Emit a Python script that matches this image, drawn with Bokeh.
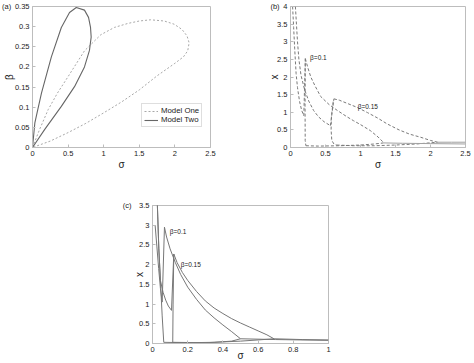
from bokeh.plotting import figure
from bokeh.layouts import column, row
from bokeh.models import Range1d, FixedTicker, Label
from bokeh.embed import file_html
from bokeh.resources import INLINE

FONT = "Liberation Sans"
AX = "#bdbdbd"
TXT = "#222222"

panel_tags = ["(a)", "(b)", "(c)"]

# ---------------- panel (a) data ----------------
a_xticks = [0, 0.5, 1, 1.5, 2, 2.5]
a_xlabels = ["0", "0.5", "1", "1.5", "2", "2.5"]
a_yticks = [0, 0.05, 0.1, 0.15, 0.2, 0.25, 0.3, 0.35]
a_ylabels = ["0", "0.05", "0.1", "0.15", "0.2", "0.25", "0.3", "0.35"]

model_one_sigma = [0, 0.1, 0.22, 0.35, 0.5, 0.73, 0.96, 1.15, 1.34, 1.5, 1.66, 1.85,
                   1.99, 2.1, 2.17, 2.2, 2.18, 2.12, 2.0, 1.75, 1.5, 1.25, 1.0, 0.75,
                   0.5, 0.25, 0]
model_one_beta = [0, 0.045, 0.094, 0.135, 0.176, 0.24, 0.28, 0.298, 0.308, 0.314, 0.317, 0.314,
                  0.306, 0.293, 0.277, 0.26, 0.24, 0.225, 0.209, 0.178, 0.143, 0.113, 0.086, 0.06,
                  0.037, 0.016, 0]
model_two_sigma = [0, 0.033, 0.074, 0.126, 0.265, 0.405, 0.52, 0.615, 0.73, 0.787, 0.815, 0.824,
                   0.8, 0.73, 0.59, 0.405, 0.172, 0]
model_two_beta = [0, 0.061, 0.094, 0.135, 0.225, 0.298, 0.335, 0.3475, 0.341, 0.323, 0.298, 0.274,
                  0.241, 0.2, 0.151, 0.102, 0.045, 0]

# ---------------- panel (b) data (Model One) ----------------
b_xticks = [0, 0.5, 1, 1.5, 2, 2.5]
b_xlabels = ["0", "0.5", "1", "1.5", "2", "2.5"]
b_yticks = [0, 0.5, 1, 1.5, 2, 2.5, 3, 3.5, 4]
b_ylabels = ["0", "0.5", "1", "1.5", "2", "2.5", "3", "3.5", "4"]

b1_upper_s = [0.03, 0.045, 0.06, 0.08, 0.1, 0.13, 0.16, 0.19]
b1_upper_x = [4.0, 3.4, 2.8, 2.1, 1.7, 1.3, 1.05, 0.9]
b1_rise_s = [0.19, 0.212]
b1_rise_x = [0.9, 2.52]
b1_decay_s = [0.212, 0.25, 0.29, 0.35, 0.43, 0.55, 0.67, 0.8, 0.9, 1.0, 1.14, 1.25, 1.33]
b1_decay_x = [2.52, 2.25, 2.0, 1.75, 1.45, 1.22, 1.05, 0.88, 0.76, 0.65, 0.48, 0.3, 0.14]
b1_drop_s = [0.212, 0.208, 0.21, 0.22]
b1_drop_x = [2.52, 1.2, 0.2, 0.05]
b1_lower_s = [0.22, 0.4, 0.7, 1.0, 1.2, 1.33]
b1_lower_x = [0.05, 0.04, 0.05, 0.07, 0.1, 0.13]
b1_tail_s = [1.33, 1.6, 2.0, 2.5]
b1_tail_x = [0.13, 0.12, 0.11, 0.1]

b2_upper_s = [0.07, 0.085, 0.1, 0.12, 0.15, 0.2, 0.26, 0.33, 0.4, 0.48, 0.57]
b2_upper_x = [4.0, 3.5, 3.0, 2.5, 2.05, 1.65, 1.32, 1.05, 0.87, 0.73, 0.62]
b2_rise_s = [0.57, 0.62]
b2_rise_x = [0.62, 1.38]
b2_decay_s = [0.62, 0.7, 0.8, 0.95, 1.1, 1.25, 1.38, 1.55, 1.7, 1.86, 2.0, 2.1]
b2_decay_x = [1.38, 1.34, 1.26, 1.14, 0.99, 0.83, 0.67, 0.5, 0.38, 0.29, 0.2, 0.15]
b2_drop_s = [0.61, 0.585, 0.58, 0.59, 0.62, 0.66]
b2_drop_x = [1.3, 0.9, 0.5, 0.2, 0.1, 0.07]
b2_lower_s = [0.66, 0.9, 1.2, 1.5, 1.8, 2.1]
b2_lower_x = [0.07, 0.05, 0.05, 0.07, 0.1, 0.15]
b2_tail_s = [2.1, 2.3, 2.5]
b2_tail_x = [0.15, 0.15, 0.15]

# ---------------- panel (c) data (Model Two) ----------------
c_xticks = [0, 0.2, 0.4, 0.6, 0.8, 1]
c_xlabels = ["0", "0.2", "0.4", "0.6", "0.8", "1"]
c_yticks = [0, 0.5, 1, 1.5, 2, 2.5, 3, 3.5]
c_ylabels = ["0", "0.5", "1", "1.5", "2", "2.5", "3", "3.5"]

c1_upper_s = [0.015, 0.025, 0.035, 0.045, 0.055]
c1_upper_x = [3.0, 2.45, 1.9, 1.4, 1.05]
c1_rise_s = [0.055, 0.068]
c1_rise_x = [1.05, 2.95]
c1_decay_s = [0.068, 0.08, 0.1, 0.13, 0.16, 0.2, 0.25, 0.3, 0.35, 0.4, 0.45, 0.5]
c1_decay_x = [2.95, 2.7, 2.4, 2.05, 1.75, 1.43, 1.12, 0.85, 0.65, 0.47, 0.3, 0.12]
c1_drop_s = [0.027, 0.036, 0.045, 0.055, 0.064]
c1_drop_x = [3.6, 2.4, 1.6, 0.7, 0.03]
c1_lower_s = [0.064, 0.2, 0.35, 0.45, 0.5]
c1_lower_x = [0.03, 0.02, 0.03, 0.06, 0.12]
c1_tail_s = [0.5, 0.7, 1.0]
c1_tail_x = [0.12, 0.1, 0.08]

c2_upper_s = [0.027, 0.036, 0.045, 0.06, 0.075, 0.09, 0.108]
c2_upper_x = [3.6, 2.4, 1.6, 1.3, 1.1, 0.95, 0.84]
c2_rise_s = [0.108, 0.121]
c2_rise_x = [0.84, 2.27]
c2_decay_s = [0.121, 0.14, 0.17, 0.2, 0.25, 0.3, 0.35, 0.4, 0.45, 0.5, 0.55, 0.6, 0.65, 0.69]
c2_decay_x = [2.27, 2.05, 1.8, 1.6, 1.32, 1.08, 0.9, 0.76, 0.63, 0.52, 0.42, 0.32, 0.22, 0.12]
c2_drop_s = [0.121, 0.117, 0.115]
c2_drop_x = [2.27, 1.0, 0.03]
c2_lower_s = [0.115, 0.3, 0.5, 0.6, 0.69]
c2_lower_x = [0.03, 0.02, 0.06, 0.09, 0.12]
c2_tail_s = [0.69, 0.85, 1.0]
c2_tail_x = [0.12, 0.1, 0.09]


def make_fig(w, h, bl, br, bt, bb, xr, yr):
    p = figure(width=w, height=h, output_backend="svg", toolbar_location=None,
               x_range=Range1d(*xr), y_range=Range1d(*yr), title=None)
    p.min_border_left = bl
    p.min_border_right = br
    p.min_border_top = bt
    p.min_border_bottom = bb
    p.grid.visible = False
    p.outline_line_color = AX
    p.background_fill_color = "white"
    p.border_fill_color = "white"
    return p


def style_axes(p, xt, xl, yt, yl, xlabel, ylabel, xs, ys, tag, gap):
    p.xaxis.ticker = FixedTicker(ticks=xt)
    p.xaxis.major_label_overrides = {t: l for t, l in zip(xt, xl)}
    p.yaxis.ticker = FixedTicker(ticks=yt)
    yover = {t: l for t, l in zip(yt, yl)}
    # the panel tag sits on the same row as the top tick label, to its left
    yover[yt[-1]] = tag + gap + yl[-1]
    p.yaxis.major_label_overrides = yover
    p.xaxis.axis_label = xlabel
    p.yaxis.axis_label = ylabel
    p.xaxis.axis_label_standoff = xs
    p.yaxis.axis_label_standoff = ys
    for ax in (p.xaxis[0], p.yaxis[0]):
        ax.axis_line_color = AX
        ax.major_tick_line_color = AX
        ax.major_tick_in = 3
        ax.major_tick_out = 0
        ax.minor_tick_line_color = None
        ax.major_label_text_font = FONT
        ax.major_label_text_font_size = "7.5px"
        ax.major_label_text_color = TXT
        ax.major_label_standoff = 3
        ax.axis_label_text_font = FONT
        ax.axis_label_text_font_size = "10px"
        ax.axis_label_text_font_style = "normal"
        ax.axis_label_text_color = TXT


def lab(p, x, y, text):
    p.add_layout(Label(x=x, y=y, text=text, text_font=FONT, text_font_size="6.5px",
                       text_color=TXT, text_align="left", text_baseline="middle"))


# ---------------- figure (a) ----------------
fa = make_fig(240, 172, 31, 30, 6, 24, (0, 2.5), (0, 0.35))
style_axes(fa, a_xticks, a_xlabels, a_yticks, a_ylabels, "σ", "β", 0, -16,
           panel_tags[0], "\u2002")
fa.line(model_one_sigma, model_one_beta, line_color="#a8a8a8", line_width=1,
        line_dash="2 2", legend_label="Model One")
fa.line(model_two_sigma, model_two_beta, line_color="#666666", line_width=1.1,
        legend_label="Model Two")
lg = fa.legend[0]
lg.location = (109, 20)
lg.label_text_font = FONT
lg.label_text_font_size = "7.8px"
lg.label_text_color = TXT
lg.label_height = 8
lg.glyph_height = 8
lg.glyph_width = 14
lg.label_standoff = 3
lg.spacing = 0
lg.padding = 2
lg.margin = 0
lg.border_line_color = AX
lg.background_fill_alpha = 1.0

# ---------------- figure (b) ----------------
fb = make_fig(234, 172, 50, 9, 6, 24, (0, 2.5), (0, 4))
style_axes(fb, b_xticks, b_xlabels, b_yticks, b_ylabels, "σ", "x", 0, -13,
           panel_tags[1], "\u2002")
DASH_C = "#7a7a7a"
for s, x in [(b1_upper_s, b1_upper_x), (b1_rise_s, b1_rise_x), (b1_decay_s, b1_decay_x),
             (b1_drop_s, b1_drop_x), (b1_lower_s, b1_lower_x),
             (b2_upper_s, b2_upper_x), (b2_rise_s, b2_rise_x), (b2_decay_s, b2_decay_x),
             (b2_drop_s, b2_drop_x), (b2_lower_s, b2_lower_x)]:
    fb.line(s, x, line_color=DASH_C, line_width=1, line_dash="3 2")
for s, x in [(b1_tail_s, b1_tail_x), (b2_tail_s, b2_tail_x)]:
    fb.line(s, x, line_color="#a0a0a0", line_width=1)
lab(fb, 0.28, 2.55, "β=0.1")
lab(fb, 0.96, 1.15, "β=0.15")

# ---------------- figure (c) ----------------
fc = make_fig(474, 191, 152, 146, 33, 20, (0, 1), (0, 3.5))
style_axes(fc, c_xticks, c_xlabels, c_yticks, c_ylabels, "σ", "x", -5, -25,
           panel_tags[2], "\u2003")
SOL_C = "#777777"
for s, x in [(c1_upper_s, c1_upper_x), (c1_rise_s, c1_rise_x), (c1_decay_s, c1_decay_x),
             (c1_drop_s, c1_drop_x), (c1_lower_s, c1_lower_x), (c1_tail_s, c1_tail_x),
             (c2_upper_s, c2_upper_x), (c2_rise_s, c2_rise_x), (c2_decay_s, c2_decay_x),
             (c2_drop_s, c2_drop_x), (c2_lower_s, c2_lower_x), (c2_tail_s, c2_tail_x)]:
    fc.line(s, x, line_color=SOL_C, line_width=1)
lab(fc, 0.098, 2.83, "β=0.1")
lab(fc, 0.16, 2.0, "β=0.15")

layout = column(row(fa, fb), fc)
open("out.html", "w").write(file_html(layout, INLINE))
